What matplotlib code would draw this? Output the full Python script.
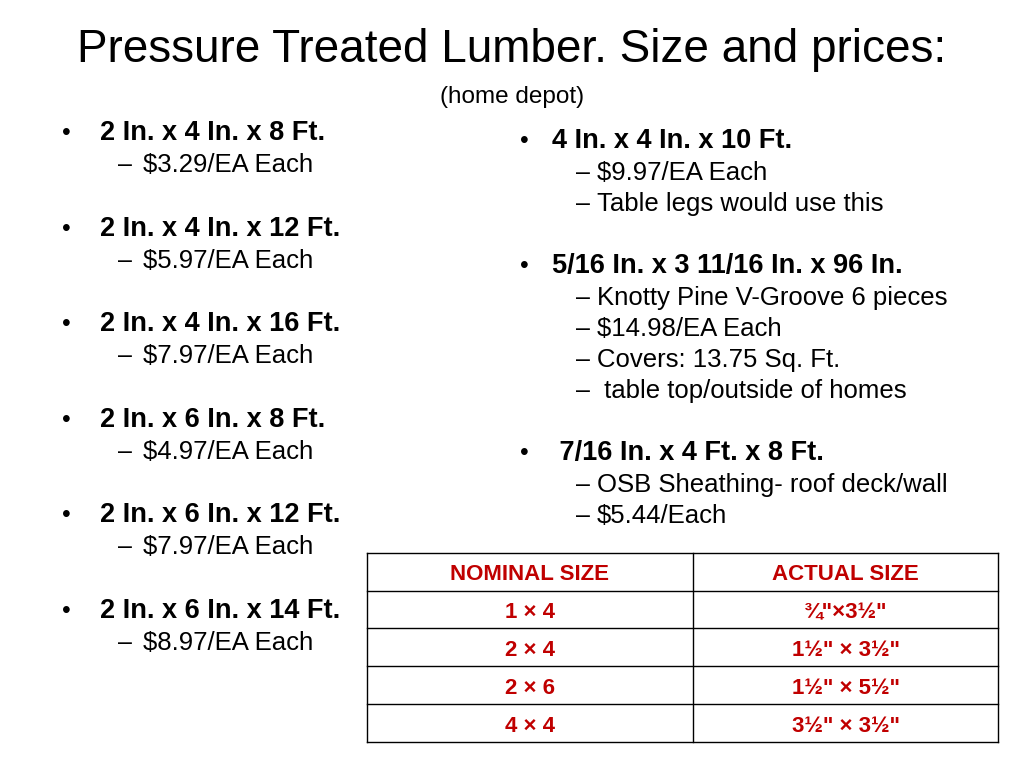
import matplotlib.pyplot as plt

plt.rcParams['font.family'] = 'Liberation Sans'

title = "Pressure Treated Lumber. Size and prices:"
subtitle = "(home depot)"

left_items = ["2 In. x 4 In. x 8 Ft.", "2 In. x 4 In. x 12 Ft.", "2 In. x 4 In. x 16 Ft.",
              "2 In. x 6 In. x 8 Ft.", "2 In. x 6 In. x 12 Ft.", "2 In. x 6 In. x 14 Ft."]
left_prices = ["$3.29/EA Each", "$5.97/EA Each", "$7.97/EA Each",
               "$4.97/EA Each", "$7.97/EA Each", "$8.97/EA Each"]

right_items = ["4 In. x 4 In. x 10 Ft.", "5/16 In. x 3 11/16 In. x 96 In.", " 7/16 In. x 4 Ft. x 8 Ft."]
right_subs = [["$9.97/EA Each", "Table legs would use this"],
              ["Knotty Pine V-Groove 6 pieces", "$14.98/EA Each", "Covers: 13.75 Sq. Ft.", " table top/outside of homes"],
              ["OSB Sheathing- roof deck/wall", "$5.44/Each"]]

table_header = ["NOMINAL SIZE", "ACTUAL SIZE"]
nominal = ["1 × 4", "2 × 4", "2 × 6", "4 × 4"]
actual = ["¾\"×3½\"", "1½\" × 3½\"", "1½\" × 5½\"", "3½\" × 3½\""]

fig = plt.figure(figsize=(10.24, 7.68), dpi=100)
ax = fig.add_axes([0, 0, 1, 1])
ax.set_xlim(0, 1024)
ax.set_ylim(768, 0)
ax.axis('off')

# text baseline offset: matplotlib 'center' sits a bit high
dy = 5

ax.text(512, 45 + dy, title, fontsize=33, ha='center', va='center')
ax.text(512, 92 + dy, subtitle, fontsize=17.5, ha='center', va='center')

# left column
y = 128
for item, price in zip(left_items, left_prices):
   ax.text(62, y + dy, "•", fontsize=18, va='center')
   ax.text(100, y + dy, item, fontsize=19.5, fontweight='bold', va='center')
   ax.text(118, y + 32 + dy, "–", fontsize=18, va='center')
   ax.text(143, y + 32 + dy, price, fontsize=18.5, va='center')
   y += 95.6

# right column
y = 136
for item, subs in zip(right_items, right_subs):
   ax.text(520, y + dy, "•", fontsize=18, va='center')
   ax.text(552, y + dy, item, fontsize=19.5, fontweight='bold', va='center')
   for j, s in enumerate(subs):
      ax.text(576, y + 32 + 31 * j + dy, "–", fontsize=18, va='center')
      ax.text(597, y + 32 + 31 * j + dy, s, fontsize=18.5, va='center')
   y += 32 + 31 * len(subs) + 31

# table
red = '#C00000'
x0, x1, xm = 367, 998, 693
rows_y = [553, 591, 628, 666, 704, 742]
for ry in rows_y:
   ax.plot([x0, x1], [ry, ry], color='black', lw=1)
for cx in [x0, xm, x1]:
   ax.plot([cx, cx], [rows_y[0], rows_y[-1]], color='black', lw=1)
cells = [table_header] + [[n, a] for n, a in zip(nominal, actual)]
for i, (c1, c2) in enumerate(cells):
   cy = (rows_y[i] + rows_y[i + 1]) / 2 + 3
   ax.text((x0 + xm) / 2, cy, c1, color=red, fontsize=16, fontweight='bold', ha='center', va='center')
   ax.text((xm + x1) / 2, cy, c2, color=red, fontsize=16, fontweight='bold', ha='center', va='center')

plt.savefig('out.png', dpi=100)
